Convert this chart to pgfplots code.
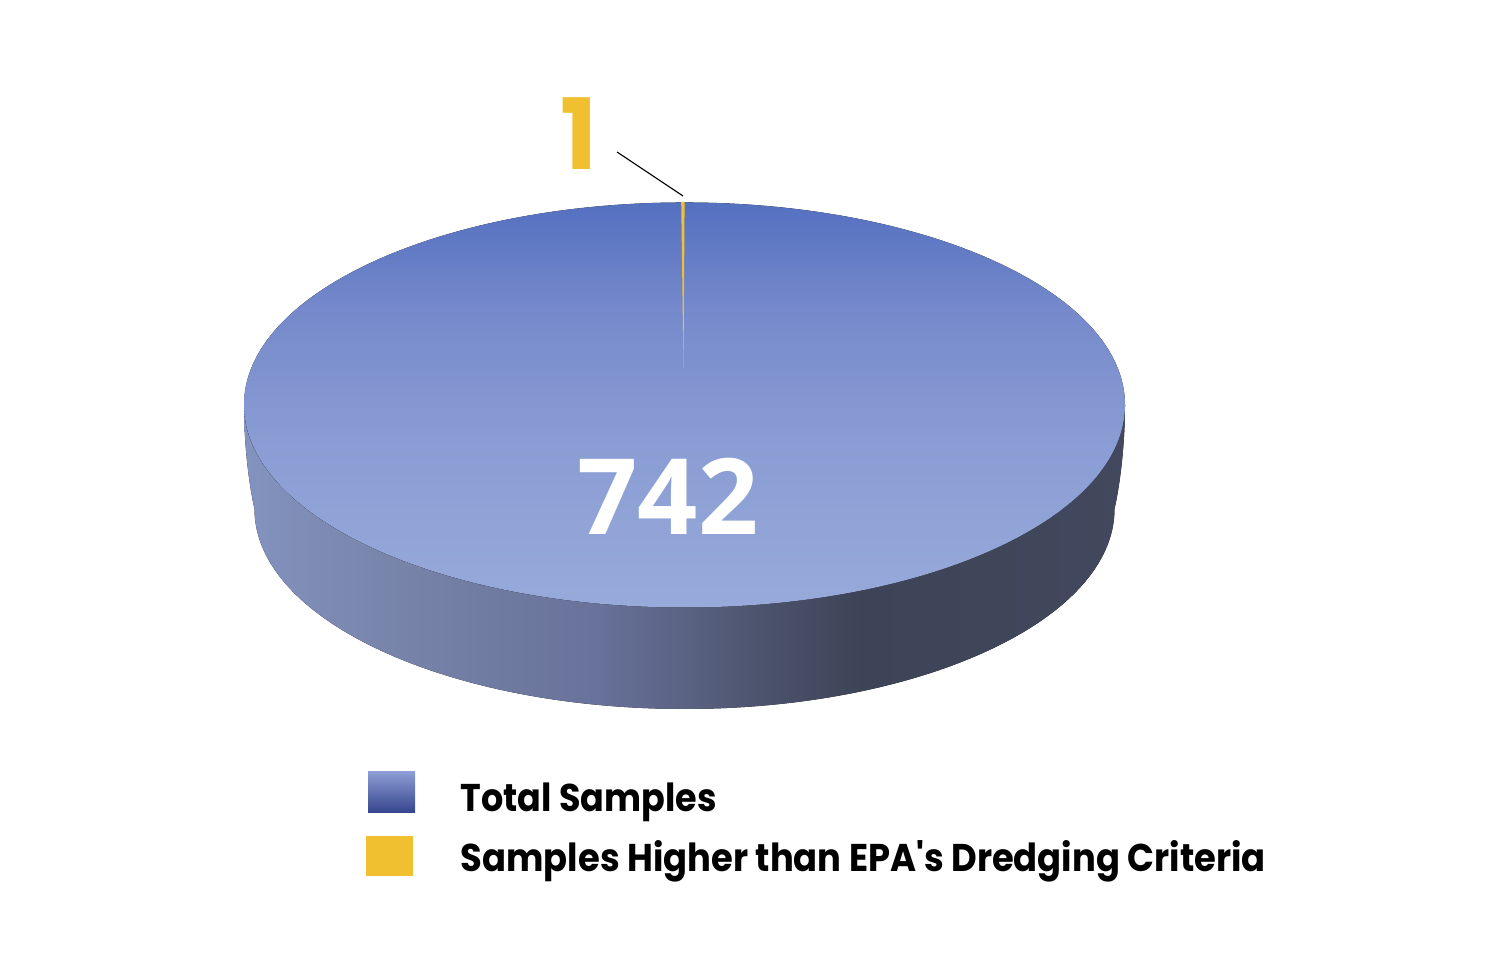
\documentclass[border=0pt]{standalone}
\usepackage{pgfplots}
\pgfplotsset{compat=1.18}
\usepackage{fontspec}
\setmainfont{Poppins}[UprightFont=* SemiBold, BoldFont=* Bold]
\newfontfamily\numfont{Open Sans}[UprightFont=* Bold]
\usepackage{graphicx}
\definecolor{pieyellow}{HTML}{F0C030}
\definecolor{topA}{HTML}{5470C0}
\definecolor{topN}{HTML}{7589CB}
\definecolor{topM}{HTML}{8A9DD4}
\definecolor{topB}{HTML}{98AADA}
\definecolor{sideA}{HTML}{8393BF}
\definecolor{sideA2}{HTML}{7783A8}
\definecolor{sideB1}{HTML}{68729A}
\definecolor{sideB}{HTML}{5A6382}
\definecolor{sideB2}{HTML}{4A516A}
\definecolor{sideC}{HTML}{3E4457}
\definecolor{sideD}{HTML}{42485D}
\definecolor{swA}{HTML}{8C9CD4}
\definecolor{swB}{HTML}{34458C}
\pgfdeclarehorizontalshading{sideshade}{100bp}{color(0bp)=(sideA); color(25bp)=(sideA); color(34bp)=(sideA2); color(45bp)=(sideB1); color(50bp)=(sideB); color(55bp)=(sideB2); color(60bp)=(sideC); color(75bp)=(sideD); color(100bp)=(sideD)}
\pgfdeclareverticalshading{topshade}{100bp}{color(0bp)=(topB); color(25bp)=(topB); color(45bp)=(topM); color(62bp)=(topN); color(75bp)=(topA); color(100bp)=(topA)}
% data
\def\valTotal{742}
\def\valHigh{1}
\begin{document}
\begin{tikzpicture}
\begin{axis}[
  scale only axis, width=150mm, height=96mm,
  xmin=0, xmax=1500, ymin=0, ymax=960,
  axis lines=none, clip=false,
]
% invisible frame for bounding box
\path (axis cs:0,0) rectangle (axis cs:1500,960);
% side of the pie (bottom ellipse slightly smaller: perspective)
\fill[shading=sideshade] (axis cs:244,555) .. controls (axis cs:244,520) and (axis cs:248,480) .. (axis cs:254.5,451)
  arc[start angle=180, end angle=360, x radius=43.0mm, y radius=20.0mm]
  .. controls (axis cs:1121,480) and (axis cs:1125,520) .. (axis cs:1125,555)
  arc[start angle=0, end angle=-180, x radius=44.05mm, y radius=20.25mm] -- cycle;
% top face
\fill[shading=topshade] (axis cs:684.5,555) ellipse [x radius=44.05mm, y radius=20.25mm];
% yellow slice: 1 of 743 samples
\addplot[fill=pieyellow, draw=none] coordinates {(683.5,592) (681.2,758) (684.6,758)} -- cycle;
% leader line and labels
\draw[black, line width=0.3pt] (axis cs:617,808) -- (axis cs:683,764);
\node[anchor=base, text=pieyellow, font=\fontsize{28}{28}\bfseries\selectfont, inner sep=0pt] at (axis cs:579,790) {1};
\node[anchor=base, text=white, font=\numfont\fontsize{30}{30}\selectfont, inner sep=0pt] at (axis cs:668,425) {\valTotal};
% legend
\fill[top color=swA, bottom color=swB] (axis cs:368,188) rectangle (axis cs:415,147);
\fill[pieyellow] (axis cs:366,124) rectangle (axis cs:413,84);
\node[anchor=base west, inner sep=0pt, font=\fontsize{11}{11}\bfseries\selectfont] at (axis cs:460,148) {\resizebox{25.6mm}{\height}{Total Samples}};
\node[anchor=base west, inner sep=0pt, font=\fontsize{11}{11}\bfseries\selectfont] at (axis cs:460,88) {\resizebox{80.5mm}{\height}{Samples Higher than EPA\textquotesingle s Dredging Criteria}};
\end{axis}
\end{tikzpicture}
\end{document}
